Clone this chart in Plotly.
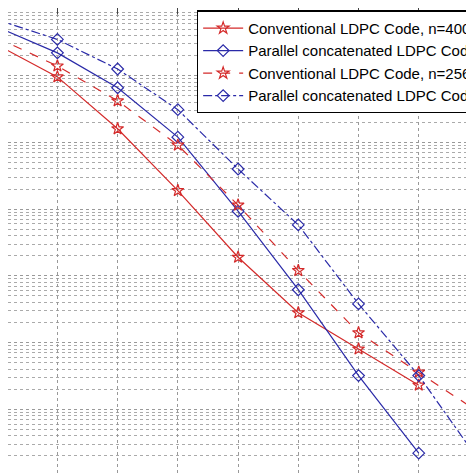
import plotly.graph_objects as go

snr = [0, 1, 2, 3, 4, 5, 6, 7, 8]

ber_conv_4000 = [0.29, 0.096, 0.016, 1.9e-3, 1.9e-4, 2.8e-5, 8e-6, 2.3e-6]
ber_par_4000 = [0.54, 0.22, 0.066, 0.012, 9.3e-4, 6.2e-5, 3.2e-6, 2.2e-7]
ber_conv_256 = [0.37, 0.14, 0.042, 9.1e-3, 1.15e-3, 1.2e-4, 1.4e-5, 3.6e-6, 9e-7]
ber_par_256 = [0.69, 0.35, 0.126, 0.031, 4e-3, 5.8e-4, 3.8e-5, 3.2e-6, 1.7e-7]

names = ["Conventional LDPC Code, n=4000",
         "Parallel concatenated LDPC Code, n=4000",
         "Conventional LDPC Code, n=256",
         "Parallel concatenated LDPC Code, n=256"]

RED = "#d42a2a"
BLUE = "#2a2aa8"

fig = go.Figure()
series = [
    (ber_conv_4000, names[0], RED, "solid", "star-open"),
    (ber_par_4000, names[1], BLUE, "solid", "diamond-open"),
    (ber_conv_256, names[2], RED, "dash", "star-open"),
    (ber_par_256, names[3], BLUE, "dashdot", "diamond-open"),
]
for ys, name, col, dash, sym in series:
    fig.add_trace(go.Scatter(
        x=snr[:len(ys)], y=ys, name=name, mode="lines+markers",
        line=dict(color=col, width=1.2, dash=dash),
        marker=dict(symbol=sym, size=9, color=col, line=dict(width=1.2, color=col)),
    ))

fig.update_layout(
    width=474, height=474,
    margin=dict(l=0, r=0, t=0, b=2, autoexpand=False),
    plot_bgcolor="white", paper_bgcolor="white",
    font=dict(family="Liberation Sans, Arial", size=15, color="black"),
    legend=dict(x=0.398, y=0.995, xanchor="left", yanchor="top",
                bgcolor="white", bordercolor="black", borderwidth=1.5,
                tracegroupgap=0, itemwidth=40),
    showlegend=True,
)
fig.update_xaxes(range=[0.18, 8.05], dtick=1, tick0=0, showticklabels=False,
                 ticks="inside", ticklen=6, mirror="ticks", showline=True,
                 linecolor="black", linewidth=1.5,
                 showgrid=True, gridcolor="#999", griddash="dot", gridwidth=1,
                 zeroline=False)
fig.update_yaxes(type="log", range=[-7.06, 0.015], dtick=1, showticklabels=False,
                 ticks="", showline=False,
                 showgrid=True, gridcolor="#999", griddash="dot", gridwidth=1,
                 minor=dict(showgrid=True, gridcolor="#aaa", griddash="dot", ticks=""),
                 zeroline=False)

fig.write_html("out.html")
